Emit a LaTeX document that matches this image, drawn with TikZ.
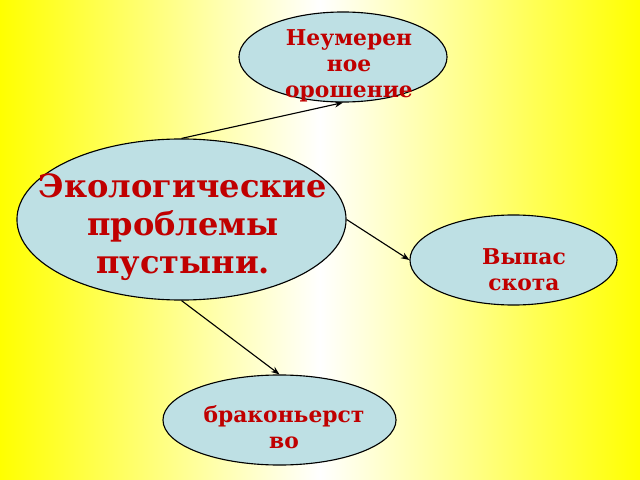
\documentclass[tikz,border=0pt]{standalone}
\usepackage{fontspec}
\setmainfont{DejaVu Serif}
\usetikzlibrary{shapes,arrows.meta,positioning,calc}
\definecolor{bubblefill}{HTML}{BEE0E4}
\definecolor{textred}{HTML}{C00000}

\begin{document}
\begin{tikzpicture}[x=0.025cm, y=-0.025cm,
  bubble/.style={draw, ellipse, fill=bubblefill, line width=0.8pt, inner sep=0pt},
  caption/.style={text=textred, font=\bfseries\fontsize{15.5}{18.4}\selectfont, align=center, inner sep=0pt},
  link/.style={-{Stealth[length=6pt, width=4.5pt]}, line width=0.8pt}]
\useasboundingbox (0,0) rectangle (640,480);
\shade[left color=yellow, right color=yellow, middle color=white] (0,0) rectangle (640,480);
% узлы
\node[bubble, minimum width=5.2cm, minimum height=2.25cm] (irrig) at (343,57) {};
\node[bubble, minimum width=8.225cm, minimum height=4.025cm] (main) at (181.5,219.5) {};
\node[bubble, minimum width=5.175cm, minimum height=2.25cm] (graze) at (513.5,260) {};
\node[bubble, minimum width=5.825cm, minimum height=2.25cm] (poach) at (279.5,420) {};

\node[caption] (irrigText) at (349,66) {Неумерен\\ное\\орошение};
\node[caption, font=\bfseries\fontsize{22.8}{27}\selectfont] (mainText) at (183,227) {Экологические\\проблемы\\пустыни.};
\node[caption] (grazeText) at (524,270) {Выпас\\скота};
\node[caption] (poachText) at (284,427) {браконьерст\\во};

% связи
\draw[link] (main.north) -- (irrig.south);
\draw[link] (main.east) -- (graze.west);
\draw[link] (main.south) -- (poach.north);
\end{tikzpicture}
\end{document}
